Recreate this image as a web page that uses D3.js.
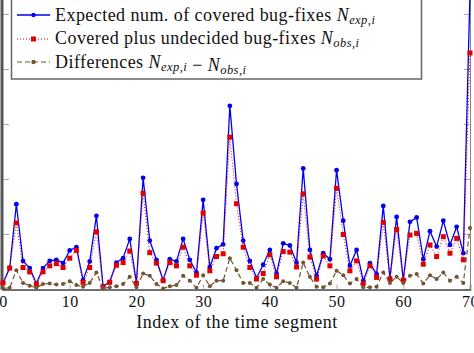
<!DOCTYPE html>
<html>
<head>
<meta charset="utf-8">
<script src="https://cdn.jsdelivr.net/npm/d3@7"></script>
<style>
  body { margin: 0; background: #fff; }
  svg { display: block; font-family: "Liberation Serif", "DejaVu Serif", serif; }
</style>
</head>
<body>
<div id="chart"></div>
<script>
// values (one tick = 10 units, axis labels are cut off)
const segments = d3.range(0, 71);

const expectedFixes = [
  1.2, 3.9, 15.5, 5.2, 3.9, 1.1, 3.9, 5.2, 5.4, 4.8,
  7.1, 7.7, 1.7, 5.1, 13.4, 0.6, 1.4, 4.9, 5.7, 9.2,
  1.2, 20.3, 8.9, 5.4, 1.7, 5.5, 5.1, 9.2, 5.4, 3.1,
  16.3, 4.1, 7.5, 8.2, 33.4, 19.2, 8.9, 5.2, 2.1, 4.5,
  7.2, 2.9, 8.4, 8.0, 4.9, 22.0, 7.2, 2.5, 6.6, 5.5,
  21.7, 12.5, 4.3, 7.2, 1.6, 4.8, 2.8, 15.2, 2.0, 13.2,
  1.7, 12.3, 13.1, 5.5, 10.6, 7.8, 12.5, 8.1, 11.4, 6.6,
  54.1
];

const observedFixes = [
  1.2, 3.9, 12.1, 4.0, 3.2, 1.0, 3.2, 4.3, 4.7, 4.0,
  5.7, 7.1, 1.3, 4.0, 10.5, 0.5, 1.3, 4.4, 4.9, 7.0,
  1.1, 17.5, 6.7, 4.8, 1.6, 4.9, 4.3, 7.7, 4.3, 2.6,
  13.9, 3.4, 6.0, 6.5, 27.7, 15.6, 7.7, 4.0, 1.9, 2.9,
  6.3, 2.3, 6.9, 6.8, 4.1, 17.4, 5.9, 1.9, 6.1, 4.3,
  18.4, 10.0, 3.4, 5.2, 1.1, 4.3, 2.2, 12.2, 1.9, 10.9,
  1.7, 9.9, 10.2, 4.6, 8.1, 6.0, 9.6, 6.6, 9.3, 5.4,
  43.0
];

const differences = [
  0.2, 0.3, 3.5, 1.2, 0.7, 0.3, 1.0, 1.1, 0.9, 1.0,
  1.5, 0.8, 0.5, 1.2, 3.1, 0.2, 0.4, 0.6, 1.0, 2.3,
  0.4, 2.9, 2.5, 1.0, 0.2, 0.6, 0.8, 2.5, 1.6, 0.3,
  2.6, 0.6, 1.6, 1.6, 5.7, 3.5, 1.2, 1.2, 0.3, 1.9,
  0.9, 0.3, 1.5, 1.2, 0.3, 4.9, 2.3, 0.5, 0.4, 1.1,
  3.4, 2.6, 1.1, 1.9, 0.4, 0.4, 0.5, 3.1, 1.2, 2.3,
  1.2, 2.5, 2.8, 1.1, 2.6, 1.9, 3.1, 1.6, 2.3, 1.2,
  11.2
];

const xTicks = [0, 10, 20, 30, 40, 50, 60, 70];
const yTicks = [0, 10, 20, 30, 40, 50];

const width = 474, height = 353;

const svg = d3.select("#chart")
  .append("svg")
    .attr("width", width)
    .attr("height", height);

const x = d3.scaleLinear().domain([0, 70]).range([3, 470]);
const y = d3.scaleLinear().domain([0, 10]).range([289.5, 234.5]);

// y ticks on both sides (labels are outside the visible crop)
svg.append("g")
    .selectAll("line")
    .data(yTicks)
    .enter()
    .append("line")
      .attr("x1", 3).attr("x2", 9)
      .attr("y1", d => y(d)).attr("y2", d => y(d))
      .attr("stroke", "#aaa").attr("stroke-width", 1);
svg.append("g")
    .selectAll("line")
    .data(yTicks)
    .enter()
    .append("line")
      .attr("x1", 464).attr("x2", 470)
      .attr("y1", d => y(d)).attr("y2", d => y(d))
      .attr("stroke", "#aaa").attr("stroke-width", 1);

// x axis
const xAxis = svg.append("g")
    .attr("transform", "translate(0," + y(0) + ")")
    .call(d3.axisBottom(x).tickValues(xTicks).tickSize(-5).tickPadding(6).tickFormat(d3.format("d")));
xAxis.select(".domain").attr("stroke", "#444").attr("stroke-width", 1.5);
xAxis.selectAll(".tick line").attr("stroke", "#aaa");
xAxis.selectAll(".tick text")
    .attr("font-family", "Liberation Serif, serif")
    .attr("font-size", 16)
    .attr("letter-spacing", 0.5)
    .attr("fill", "#111");

// frame on the left and right
svg.append("line")
    .attr("x1", 2).attr("x2", 2).attr("y1", 0).attr("y2", y(0))
    .attr("stroke", "#555").attr("stroke-width", 3);
svg.append("line")
    .attr("x1", 470.5).attr("x2", 470.5).attr("y1", 0).attr("y2", y(0))
    .attr("stroke", "#888").attr("stroke-width", 1);

svg.append("text")
    .attr("x", 237)
    .attr("y", 328)
    .attr("text-anchor", "middle")
    .attr("font-size", 18)
    .attr("letter-spacing", 0.55)
    .attr("fill", "#111")
    .text("Index of the time segment");

// series
const blue = "#0000ee", red = "#e00000", brown = "#6f5535";

function lineFor(values) {
  return d3.line()
    .x((d, i) => x(segments[i]))
    .y(d => y(d))(values);
}

svg.append("path")
    .attr("d", lineFor(expectedFixes))
    .attr("fill", "none")
    .attr("stroke", blue)
    .attr("stroke-width", 1.3);
svg.append("g")
    .selectAll("circle")
    .data(expectedFixes)
    .enter()
    .append("circle")
      .attr("cx", (d, i) => x(segments[i]))
      .attr("cy", d => y(d))
      .attr("r", 2.4)
      .attr("fill", blue);

svg.append("path")
    .attr("d", lineFor(observedFixes))
    .attr("fill", "none")
    .attr("stroke", red)
    .attr("stroke-width", 1)
    .attr("stroke-dasharray", "1,2");
svg.append("g")
    .selectAll("rect")
    .data(observedFixes)
    .enter()
    .append("rect")
      .attr("x", (d, i) => x(segments[i]) - 2.5)
      .attr("y", d => y(d) - 2.5)
      .attr("width", 5)
      .attr("height", 5)
      .attr("fill", red);

svg.append("path")
    .attr("d", lineFor(differences))
    .attr("fill", "none")
    .attr("stroke", brown)
    .attr("stroke-width", 1.2)
    .attr("stroke-dasharray", "5,3");
svg.append("g")
    .selectAll("circle")
    .data(differences)
    .enter()
    .append("circle")
      .attr("cx", (d, i) => x(segments[i]))
      .attr("cy", d => y(d))
      .attr("r", 2)
      .attr("fill", brown);

// legend
const legend = svg.append("g");
legend.append("rect")
    .attr("x", 11.5).attr("y", -10)
    .attr("width", 410).attr("height", 89)
    .attr("fill", "#fff")
    .attr("stroke", "#666")
    .attr("stroke-width", 1.5);

const legendRows = [
  { color: blue, dash: null, marker: "circle", y: 15 },
  { color: red, dash: "1,2", marker: "square", y: 39 },
  { color: brown, dash: "5,3", marker: "circle", y: 62 }
];

legendRows.forEach(function(row) {
  legend.append("line")
      .attr("x1", 17).attr("x2", 50)
      .attr("y1", row.y).attr("y2", row.y)
      .attr("stroke", row.color)
      .attr("stroke-width", row.dash ? 1 : 1.3)
      .attr("stroke-dasharray", row.dash);
  if (row.marker === "circle") {
    legend.append("circle")
        .attr("cx", 33.5).attr("cy", row.y).attr("r", 2.2)
        .attr("fill", row.color);
  } else {
    legend.append("rect")
        .attr("x", 31).attr("y", row.y - 2.5)
        .attr("width", 5).attr("height", 5)
        .attr("fill", row.color);
  }
});

function nSymbol(textEl, sub) {
  textEl.append("tspan").attr("font-style", "italic").text("N");
  textEl.append("tspan").attr("font-style", "italic").attr("font-size", 12.5).attr("dy", 3).text(sub);
  textEl.append("tspan").attr("dy", -3).text("");
}

const t1 = legend.append("text").attr("x", 55).attr("y", 21).attr("font-size", 18)
    .attr("letter-spacing", 0.45).attr("fill", "#111");
t1.append("tspan").text("Expected num. of covered bug-fixes ");
nSymbol(t1, "exp,i");

const t2 = legend.append("text").attr("x", 55).attr("y", 44).attr("font-size", 18)
    .attr("letter-spacing", 0.45).attr("fill", "#111");
t2.append("tspan").text("Covered plus undecided bug-fixes ");
nSymbol(t2, "obs,i");

const t3 = legend.append("text").attr("x", 55).attr("y", 67.5).attr("font-size", 18)
    .attr("letter-spacing", 0.45).attr("fill", "#111");
t3.append("tspan").text("Differences ");
nSymbol(t3, "exp,i");
t3.append("tspan").text(" \u2212 ");
nSymbol(t3, "obs,i");
</script>
</body>
</html>
